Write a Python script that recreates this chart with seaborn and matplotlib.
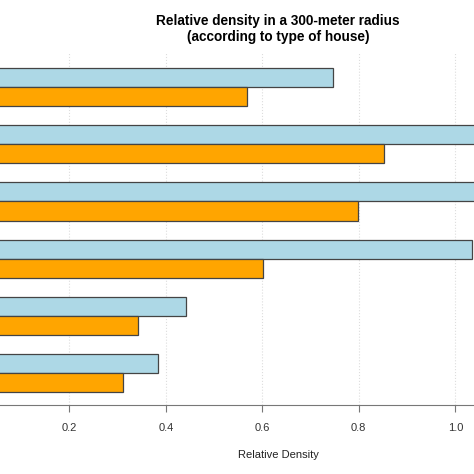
import pandas as pd
import seaborn as sns
import matplotlib
matplotlib.use("Agg")
from matplotlib import pyplot as plt

# house types (their labels are cut off in the reference)
house_types = ["Type 1", "Type 2", "Type 3", "Type 4", "Type 5", "Type 6"]
series_names = ["Series 1", "Series 2"]
series_1 = [0.747, 1.12, 1.09, 1.035, 0.442, 0.383]
series_2 = [0.569, 0.853, 0.798, 0.601, 0.342, 0.311]
x_ticks = [0.2, 0.4, 0.6, 0.8, 1.0]
x_tick_labels = ["0.2", "0.4", "0.6", "0.8", "1.0"]

df = pd.DataFrame({
    "house": house_types * 2,
    "series": [series_names[0]] * 6 + [series_names[1]] * 6,
    "density": series_1 + series_2,
})

sns.set_style("white")
plt.rcParams["font.family"] = ["Liberation Sans", "DejaVu Sans"]

fig = plt.figure(figsize=(4.74, 4.74), dpi=100)
ax = fig.add_axes([0.0, 1 - 405 / 474, 1.0, (405 - 53) / 474])

sns.barplot(data=df, x="density", y="house", hue="series", orient="h",
            hue_order=series_names, order=house_types,
            palette=["#ADD8E6", "#FFA500"], saturation=1, width=2 / 3, gap=0,
            edgecolor="#444444", linewidth=0.9, legend=False, ax=ax, zorder=3)

ax.set_xlim(0.2 - 69.3 / 482.5, 0.2 + (474 - 69.3) / 482.5)
ax.set_ylim(5.553, -0.59)

for t in x_ticks:
    ax.axvline(t, color="#dddddd", linestyle=":", linewidth=0.8, zorder=1)

ax.set_xticks(x_ticks)
ax.set_xticklabels(x_tick_labels, fontsize=8, color="#333333")
ax.tick_params(axis="x", bottom=True, length=5, width=0.8, color="#777777", pad=8)
ax.set_yticks([])
ax.set_ylabel("")

for side in ["left", "right", "top"]:
    ax.spines[side].set_visible(False)
ax.spines["bottom"].set_color("#777777")
ax.spines["bottom"].set_linewidth(0.8)

ax.set_xlabel("Relative Density", fontsize=8, color="#222222")
ax.xaxis.set_label_coords(278 / 474, (405 - 455) / 352)
ax.xaxis.label.set_va("center")

fig.text(278 / 474, 1 - 29 / 474,
         "Relative density in a 300-meter radius\n(according to type of house)",
         ha="center", va="center", fontsize=9.8, fontweight="bold",
         linespacing=1.1, color="black")

fig.savefig("out.png", dpi=100)
